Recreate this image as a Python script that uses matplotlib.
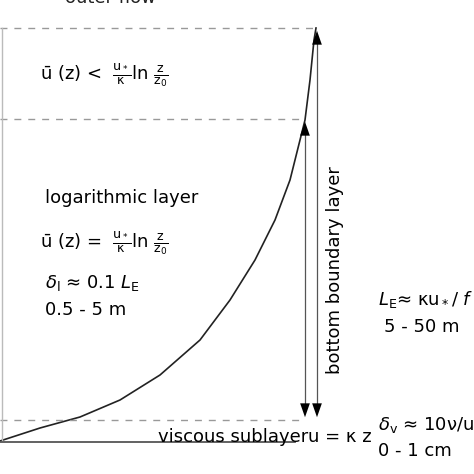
import matplotlib
matplotlib.use("Agg")
import matplotlib.pyplot as plt

curve_x = [0, 40, 80, 120, 160, 200, 230, 255, 275, 290, 300, 305, 310, 314, 316]
curve_y = [441, 428, 417, 400, 375, 340, 300, 260, 220, 180, 140, 120, 80, 40, 28]
dash_y = [28, 119, 420]
dash_xend = [316, 305, 305]

fig = plt.figure(figsize=(4.74, 4.74), dpi=100)
ax = fig.add_axes([0, 0, 1, 1])
ax.set_xlim(0, 474); ax.set_ylim(474, 0); ax.axis("off")

ax.plot(curve_x, curve_y, color="#222", lw=1.2)
for y, xe in zip(dash_y, dash_xend):
    ax.plot([0, xe], [y, y], color="#999", lw=1, ls=(0, (5, 5)))
ax.plot([2, 2], [28, 440], color="#bbb", lw=1)
ax.plot([0, 295], [442, 442], color="#555", lw=1.3)
for x, top in [(305, 119), (317, 28)]:
    ax.plot([x, x], [top + 10, 410], color="#555", lw=0.9)
    ax.annotate("", xy=(x, top), xytext=(x, top + 20),
                arrowprops=dict(arrowstyle="-|>,head_width=0.35,head_length=1", color="k", lw=0))
    ax.annotate("", xy=(x, 420), xytext=(x, 400),
                arrowprops=dict(arrowstyle="-|>,head_width=0.35,head_length=1", color="k", lw=0))

fs = 13
ax.text(110, -2, "outer flow", fontsize=fs, ha="center", va="center", color="#222")
ax.text(40, 75, r"$\bar{\rm u}$ (z) <  $\frac{\rm u_*}{\kappa}$ln $\frac{\rm z}{\rm z_0}$", fontsize=fs, va="center")
ax.text(45, 198, "logarithmic layer", fontsize=fs, va="center")
ax.text(40, 243, r"$\bar{\rm u}$ (z) =  $\frac{\rm u_*}{\kappa}$ln $\frac{\rm z}{\rm z_0}$", fontsize=fs, va="center")
ax.text(45, 283, r"$\delta_{\rm l}$ ≈ 0.1 $L_{\rm E}$", fontsize=fs, va="center")
ax.text(45, 310, "0.5 - 5 m", fontsize=fs, va="center")
ax.text(335, 270, "bottom boundary layer", fontsize=fs, rotation=90, ha="center", va="center")
ax.text(378, 300, r"$L_{\rm E}$≈ κu$_*$/ $f$", fontsize=fs, va="center")
ax.text(384, 327, "5 - 50 m", fontsize=fs, va="center")
ax.text(158, 437, "viscous sublayer", fontsize=fs, va="center")
ax.text(308, 437, "u = κ z", fontsize=fs, va="center")
ax.text(378, 425, r"$\delta_{\rm v}$ ≈ 10ν/u$_*$", fontsize=fs, va="center")
ax.text(378, 451, "0 - 1 cm", fontsize=fs, va="center")

fig.savefig("out.png", dpi=100)
